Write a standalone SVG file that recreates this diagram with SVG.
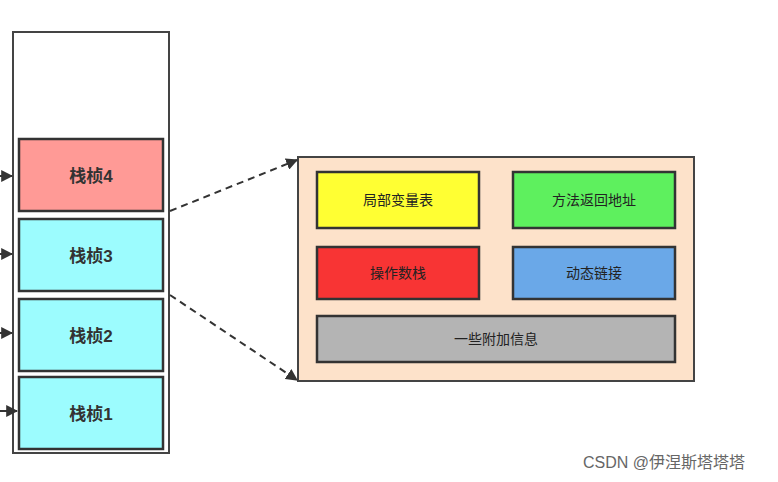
<svg xmlns="http://www.w3.org/2000/svg" width="778" height="482" viewBox="0 0 778 482">
<style>
text{font-family:"Liberation Sans","Noto Sans CJK SC",sans-serif;text-anchor:middle;dominant-baseline:central;fill:#222}
.f{stroke:#333;stroke-width:2.5}
.t{font-size:17px;font-weight:bold;fill:#333}
.s{font-size:14px}
.c{stroke:#333;stroke-width:2;fill:none}
</style>
<defs><marker id="a" viewBox="0 0 10 10" refX="9" refY="5" markerWidth="6" markerHeight="6" orient="auto"><path d="M0,0L10,5L0,10z" fill="#333"/></marker></defs>
<rect width="778" height="482" fill="#fff"/>
<g id="stack"><rect x="13" y="32" width="156" height="421" fill="#fff" stroke="#444" stroke-width="2"/></g>
<g id="f4"><rect class="f" x="19" y="139" width="144" height="72" fill="#ff9a96"/><text class="t" x="91" y="176">栈桢4</text></g>
<g id="f3"><rect class="f" x="19" y="219" width="144" height="72" fill="#9cfcfe"/><text class="t" x="91" y="256">栈桢3</text></g>
<g id="f2"><rect class="f" x="19" y="299" width="144" height="72" fill="#9cfcfe"/><text class="t" x="91" y="336">栈桢2</text></g>
<g id="f1"><rect class="f" x="19" y="377" width="144" height="72" fill="#9cfcfe"/><text class="t" x="91" y="414">栈桢1</text></g>
<g id="panel"><rect x="298" y="157" width="396" height="224" fill="#fde2ca" stroke="#444" stroke-width="2"/></g>
<g id="n1"><rect class="f" x="317" y="172" width="162" height="56" fill="#ffff33"/><text class="s" x="398" y="200">局部变量表</text></g>
<g id="n2"><rect class="f" x="513" y="172" width="162" height="56" fill="#5ef05e"/><text class="s" x="594" y="200">方法返回地址</text></g>
<g id="n3"><rect class="f" x="317" y="247" width="162" height="52" fill="#f83434"/><text class="s" x="398" y="273">操作数栈</text></g>
<g id="n4"><rect class="f" x="513" y="247" width="162" height="52" fill="#6aa8e8"/><text class="s" x="594" y="273">动态链接</text></g>
<g id="n5"><rect class="f" x="317" y="316" width="358" height="46" fill="#b4b4b4"/><text class="s" x="496" y="339">一些附加信息</text></g>
<g id="connectors">
<path class="c" d="M0,176H12" marker-end="url(#a)"/>
<path class="c" d="M0,254H12" marker-end="url(#a)"/>
<path class="c" d="M0,333H12" marker-end="url(#a)"/>
<path class="c" d="M0,411H17" marker-end="url(#a)"/>
<path class="c" d="M170,211L297,160" stroke-dasharray="7,5" marker-end="url(#a)"/>
<path class="c" d="M170,295L297,380" stroke-dasharray="7,5" marker-end="url(#a)"/>
</g>
<text x="664" y="462" style="font-size:16px;fill:#666">CSDN @伊涅斯塔塔塔</text>
</svg>
